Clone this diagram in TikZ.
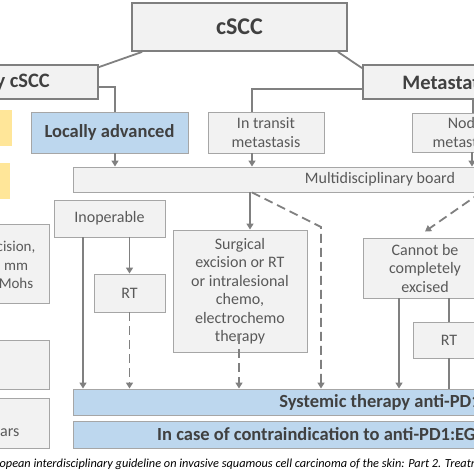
\documentclass[tikz,border=0pt]{standalone}
\usepackage{fontspec}
\setmainfont{Carlito}
\usepackage{xcolor}
\usetikzlibrary{arrows.meta}

\definecolor{boxfill}{HTML}{F2F2F2}
\definecolor{boxline}{HTML}{A6A6A6}
\definecolor{topline}{HTML}{7F7F7F}
\definecolor{lnk}{HTML}{808080}
\definecolor{bluefill}{HTML}{BDD7EE}
\definecolor{yelfill}{HTML}{FFE699}
\definecolor{txtgray}{HTML}{595959}
\definecolor{txtdark}{HTML}{404040}

\begin{document}
\begin{tikzpicture}[
    x=1pt, y=-1pt,
    box/.style={draw=boxline, fill=boxfill, line width=0.9pt, inner sep=0pt, align=center,
                text=txtgray, font=\fontsize{16}{18.5}\selectfont},
    topbox/.style={box, draw=topline, line width=1.8pt, text=txtdark,
                font=\bfseries\fontsize{20.5}{24}\selectfont},
    bluebox/.style={box, fill=bluefill, text=txtdark, font=\bfseries\fontsize{18.5}{22}\selectfont},
    yelbox/.style={draw=none, fill=yelfill, inner sep=0pt},
    plain/.style={draw=lnk, line width=1.8pt},
    arr/.style={plain, -{Triangle[length=6pt,width=7pt]}},
    darr/.style={arr, dash pattern=on 9pt off 5pt}
  ]
    \useasboundingbox (0,0) rectangle (474,474);
    \clip (0,0) rectangle (474,474);

    % top row
    \node[topbox, font=\bfseries\fontsize{24}{28}\selectfont, minimum width=215pt, minimum height=48pt] (cscc) at (239.5,27) {cSCC};
    \node[topbox, minimum width=208pt, minimum height=34pt] (prim) at (-6,82) {Primary cSCC};
    \node[topbox, minimum width=214pt, minimum height=34pt] (meta) at (470,82) {Metastatic cSCC};

    % second row
    \node[bluebox, minimum width=157pt, minimum height=41pt] (locadv)  at (109.5,132.5) {Locally advanced};
    \node[box, minimum width=116pt, minimum height=41pt]     (transit) at (266,132.5) {In transit\\metastasis};
    \node[box, minimum width=110pt, minimum height=39pt]     (nodal)   at (467,132.5) {Nodal\\metastasis};
    \node[box, minimum width=614pt, minimum height=25pt]     (mdb)     at (380,179.5) {Multidisciplinary board};

    % treatment boxes
    \node[box, minimum width=111pt, minimum height=37pt]  (inop)   at (109.5,218.5) {Inoperable};
    \node[box, minimum width=71pt, minimum height=38pt]   (rtl)    at (129.5,293) {RT};
    \node[box, minimum width=134pt, minimum height=122pt] (surg)   at (240,291)
      {Surgical\\excision or RT\\or intralesional\\chemo,\\electrochemo\\therapy};
    \node[box, minimum width=124pt, minimum height=60pt]  (cannot) at (425,268) {Cannot be\\completely\\excised};
    \node[box, minimum width=72pt, minimum height=36pt]   (rtr)    at (449,340) {RT};

    % systemic bars
    \node[bluebox, minimum width=614pt, minimum height=26pt] (sys) at (380,402) {Systemic therapy anti-PD1};
    \node[bluebox, minimum width=614pt, minimum height=27pt] (alt) at (380,434.5) {};
    \node[anchor=west, inner sep=0pt, text=txtdark, font=\bfseries\fontsize{18.5}{22}\selectfont] (alttxt)
      at (157,434.5) {In case of contraindication to anti-PD1:EGFR};

    % left column (cut)
    \node[yelbox, minimum width=62pt, minimum height=36pt] (yel1) at (-19,128) {};
    \node[yelbox, minimum width=60pt, minimum height=36pt] (yel2) at (-20,181) {};
    \node[box, minimum width=109pt, minimum height=79pt] (exc)  at (-5.5,263.5) {};
    \node[align=center, inner sep=0pt, text=txtgray, font=\fontsize{15}{18.5}\selectfont] (exctxt)
      at (16,265) {cision,\\mm\\Mohs};
    \node[box, minimum width=109pt, minimum height=49pt] (lft2) at (-5.5,364.5) {};
    \node[box, minimum width=109pt, minimum height=50pt] (lft3) at (-5.5,423) {};
    \node[anchor=west, inner sep=0pt, text=txtgray, font=\fontsize{16}{18.5}\selectfont] (yrs) at (0,433) {ars};

    % caption
    \node[anchor=base west, inner sep=0pt, font=\itshape\fontsize{12.3}{14}\selectfont] (cap) at (-17,467)
      {European interdisciplinary guideline on invasive squamous cell carcinoma of the skin: Part 2. Treatment};

    % links
    \draw[plain] ([xshift=11pt]cscc.south west) -- ([yshift=-3pt]prim.north east);
    \draw[plain] ([xshift=-10pt]cscc.south east) -- ([yshift=-4pt]meta.north west);
    \draw[plain] ([yshift=-5pt]prim.east) -| ([xshift=5.5pt]locadv.north);
    \draw[plain] ([yshift=-7pt]meta.west) -| ([xshift=-14pt]transit.north);
    \coordinate (n1) at ([xshift=6pt]nodal.north);
    \draw[plain] (n1 |- meta.south) -- (n1);

    \coordinate (la) at ([xshift=5.5pt]locadv.south);
    \coordinate (tr) at ([xshift=-14pt]transit.south);
    \coordinate (nd) at ([xshift=5pt]nodal.south);
    \draw[arr] (la) -- (la |- mdb.north);
    \draw[arr] (tr) -- (tr |- mdb.north);
    \draw[arr] (nd) -- (nd |- mdb.north);

    \coordinate (sg) at ([xshift=10pt]surg.north);
    \draw[arr] (sg |- mdb.south) -- (sg);
    \coordinate (bend) at (321,227);
    \draw[darr] (tr |- mdb.south) -- (bend) -- (bend |- sys.north);
    \coordinate (dr) at (481,0);
    \draw[darr] (dr |- mdb.south) -- ([yshift=6pt]cannot.north);

    \draw[arr] (inop.south -| rtl.north) -- (rtl.north);
    \coordinate (io) at ([xshift=-26.5pt]inop.south);
    \draw[arr] (io) -- (io |- sys.north);
    \draw[darr] (rtl.south) -- (rtl.south |- sys.north);
    \coordinate (sb) at ([xshift=-1pt,yshift=17pt]surg.south);
    \draw[darr] (sb) -- (sb |- sys.north);

    \coordinate (c1) at ([xshift=-26pt]cannot.south);
    \draw[arr] (c1) -- (c1 |- sys.north);
    \draw[plain] (cannot.south -| rtr.north) -- (rtr.north);
    \draw[plain] (rtr.south) -- (rtr.south |- sys.north);
\end{tikzpicture}
\end{document}
